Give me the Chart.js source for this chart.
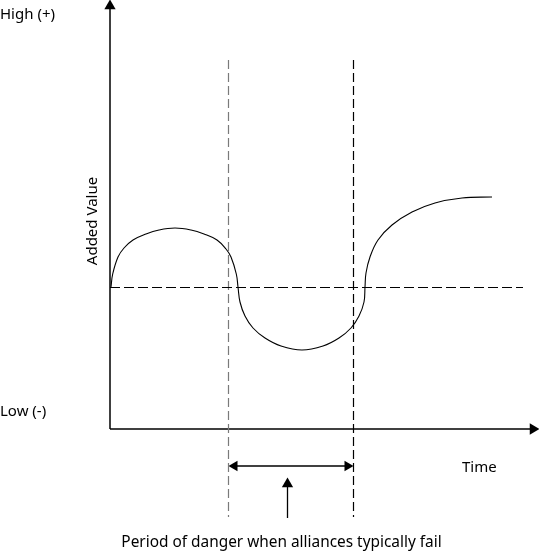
<!DOCTYPE html>
<html>
<head>
<meta charset="utf-8">
<script src="https://cdn.jsdelivr.net/npm/chart.js@4/dist/chart.umd.min.js"></script>
<style>
  html, body { margin: 0; padding: 0; background: #fff; }
  #wrap { width: 539px; height: 551px; }
</style>
</head>
<body>
<div id="wrap"><canvas id="chart" width="539" height="551"></canvas></div>
<script>
// Added value curve over time
const curveTime  = [1, 2.7, 8, 14, 23, 36, 49, 65, 81, 94, 107, 116, 121, 126.3, 128,
                    130, 135, 143, 155, 171, 192, 213, 229, 241, 249, 254, 255,
                    256, 260, 268, 282, 302, 325, 352, 382];
const curveValue = [142, 155, 172, 181, 189, 195, 199, 201, 199, 195, 189, 180, 172, 155, 142,
                    127, 113, 101, 91, 83, 79, 83, 91, 101, 113, 127, 142,
                    156, 172, 189, 204, 217, 226, 231, 232];

// reference level and danger window
const baseValue = 141.5;
const baseEnd = 413;
const dangerStart = 118.5;
const dangerEnd = 243.5;
const dangerTop = 369;
const dangerBottom = -88;
const spanValue = -37;
const pointerTime = 177.5;
const pointerFrom = -89;
const pointerTo = -49;

// axes
const timeMax = 429;
const valueMax = 429;

const labels = {
  high: 'High (+)',
  low: 'Low (-)',
  yTitle: 'Added Value',
  xTitle: 'Time',
  note: 'Period of danger when alliances typically fail'
};

const FONT = '15px "Noto Sans", "Open Sans", sans-serif';
const NOTE_FONT = '15.4px "Noto Sans", "Open Sans", sans-serif';

function pts(xs, ys) { return xs.map((x, i) => ({ x: x, y: ys[i] })); }

// arrow heads: only the end point gets a triangle
function headRadius(n, r) { return Array.from({ length: n }, (_, i) => i === n - 1 ? r : 0); }

const textPlugin = {
  id: 'texts',
  afterDraw(chart) {
    const ctx = chart.ctx;
    const x = chart.scales.x, y = chart.scales.y;
    ctx.save();
    ctx.fillStyle = '#000';
    ctx.font = FONT;
    ctx.textBaseline = 'middle';
    ctx.textAlign = 'left';
    ctx.fillText(labels.high, 0, y.getPixelForValue(414));
    ctx.fillText(labels.low, 0, y.getPixelForValue(17));
    ctx.fillText(labels.xTitle, x.getPixelForValue(352), y.getPixelForValue(-39));
    ctx.save();
    ctx.translate(x.getPixelForValue(-17), y.getPixelForValue(208));
    ctx.rotate(-Math.PI / 2);
    ctx.textAlign = 'center';
    ctx.fillText(labels.yTitle, 0, 0);
    ctx.restore();
    ctx.font = NOTE_FONT;
    ctx.textAlign = 'center';
    ctx.fillText(labels.note, x.getPixelForValue(171.5), y.getPixelForValue(-114));
    ctx.restore();
  }
};

new Chart(document.getElementById('chart'), {
  type: 'scatter',
  data: {
    datasets: [
      {
        // value curve
        data: pts(curveTime, curveValue),
        showLine: true,
        borderColor: '#000',
        borderWidth: 1.1,
        tension: 0.4,
        pointRadius: 0
      },
      {
        // baseline
        data: [{ x: 0, y: baseValue }, { x: baseEnd, y: baseValue }],
        showLine: true,
        borderColor: '#000',
        borderWidth: 1.2,
        borderDash: [10, 4],
        pointRadius: 0
      },
      {
        data: [{ x: dangerStart, y: dangerTop }, { x: dangerStart, y: dangerBottom }],
        showLine: true,
        borderColor: '#7a7a7a',
        borderWidth: 1.2,
        borderDash: [9, 4],
        pointRadius: 0
      },
      {
        data: [{ x: dangerEnd, y: dangerTop }, { x: dangerEnd, y: dangerBottom }],
        showLine: true,
        borderColor: '#000',
        borderWidth: 1.2,
        borderDash: [9, 4],
        pointRadius: 0
      },
      {
        // y axis
        data: [{ x: 0, y: 0 }, { x: 0, y: valueMax - 6 }],
        showLine: true,
        borderColor: '#000',
        borderWidth: 1.5,
        pointStyle: 'triangle',
        pointRotation: 0,
        pointRadius: headRadius(2, 6.5),
        pointBackgroundColor: '#000',
        pointBorderWidth: 0
      },
      {
        // x axis
        data: [{ x: 0, y: 0 }, { x: timeMax - 6, y: 0 }],
        showLine: true,
        borderColor: '#000',
        borderWidth: 1.5,
        pointStyle: 'triangle',
        pointRotation: 90,
        pointRadius: headRadius(2, 6.5),
        pointBackgroundColor: '#000',
        pointBorderWidth: 0
      },
      {
        // double arrow across the danger window
        data: [{ x: dangerStart + 6, y: spanValue }, { x: dangerEnd - 6, y: spanValue }],
        showLine: true,
        borderColor: '#000',
        borderWidth: 1.3,
        pointStyle: 'triangle',
        pointRotation: [-90, 90],
        pointRadius: 6,
        pointBackgroundColor: '#000',
        pointBorderWidth: 0
      },
      {
        // pointer
        data: [{ x: pointerTime, y: pointerFrom }, { x: pointerTime, y: pointerTo - 6 }],
        showLine: true,
        borderColor: '#000',
        borderWidth: 1.3,
        pointStyle: 'triangle',
        pointRotation: 0,
        pointRadius: headRadius(2, 6.5),
        pointBackgroundColor: '#000',
        pointBorderWidth: 0
      }
    ]
  },
  options: {
    responsive: false,
    animation: false,
    layout: { padding: 0, autoPadding: false },
    plugins: { legend: { display: false }, tooltip: { enabled: false } },
    scales: {
      x: { type: 'linear', min: -110, max: timeMax, display: false },
      y: { type: 'linear', min: -122, max: valueMax, display: false }
    }
  },
  plugins: [textPlugin]
});
</script>
</body>
</html>
